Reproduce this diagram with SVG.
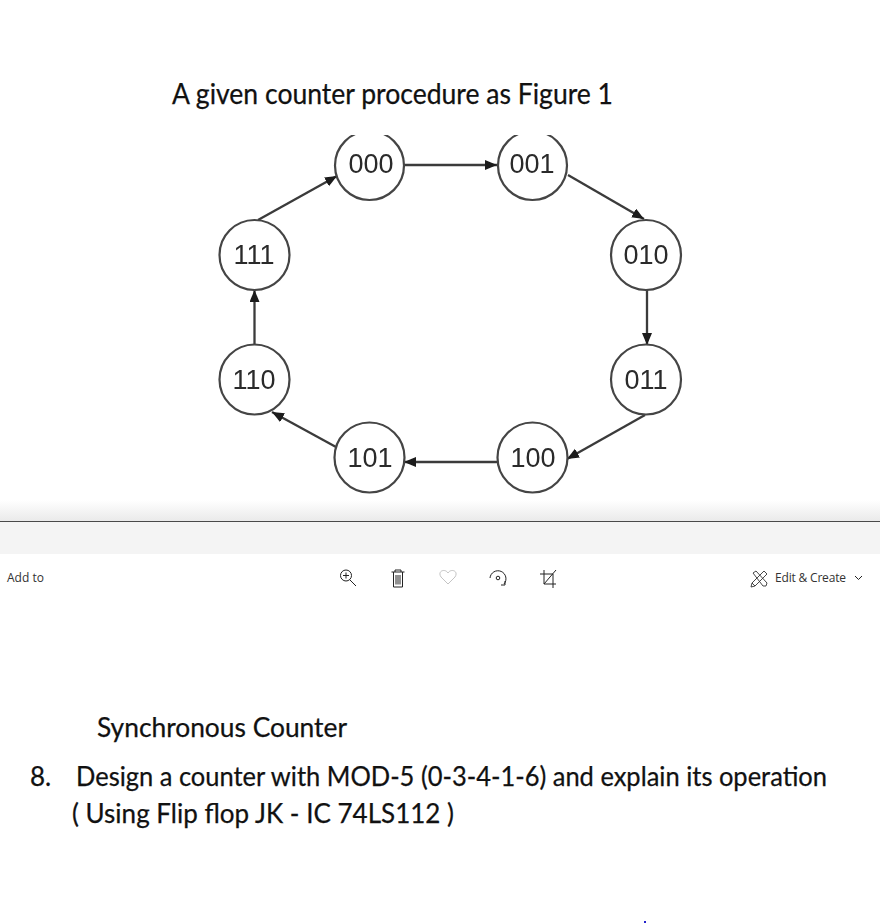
<svg xmlns="http://www.w3.org/2000/svg" width="880" height="923" viewBox="0 0 880 923">
<defs>
<style>
.n{fill:#fff;stroke:#444;stroke-width:2.200}
.l{font-family:"Liberation Sans",Arial,sans-serif;font-size:27px;fill:#2a2a2a;text-anchor:middle}
.c{fill:none;stroke:#3a3a3a;stroke-width:2.300}
.t{font-family:Lato,"Open Sans",sans-serif;fill:#111;stroke:#111;stroke-width:.25}
.u{font-family:"Open Sans",sans-serif;font-size:12px;fill:#333}
.i{fill:none;stroke:#222;stroke-width:1}
</style>
<marker id="a" markerUnits="userSpaceOnUse" markerWidth="14" markerHeight="12" refX="12" refY="5" orient="auto"><path d="M0 0L12 5L0 10Z" fill="#1a1a1a"/></marker>
<linearGradient id="g" x1="0" y1="0" x2="0" y2="1"><stop offset="0" stop-color="#fff"/><stop offset="1" stop-color="#eaeaea"/></linearGradient>
<filter id="b" x="-5%" y="-5%" width="110%" height="110%"><feGaussianBlur stdDeviation="0.600"/></filter>
</defs>
<rect width="880" height="923" fill="#fff"/>
<text class="t" x="172" y="104" font-size="28" textLength="441" lengthAdjust="spacingAndGlyphs">A given counter procedure as Figure 1</text>
<g filter="url(#b)">
<g id="connectors">
<line class="c" x1="258" y1="220" x2="337" y2="176" marker-end="url(#a)"/>
<line class="c" x1="405" y1="165" x2="497" y2="165" marker-end="url(#a)"/>
<line class="c" x1="568" y1="175" x2="644" y2="219" marker-end="url(#a)"/>
<line class="c" x1="647" y1="290" x2="647" y2="345" marker-end="url(#a)"/>
<line class="c" x1="645" y1="415" x2="567" y2="459" marker-end="url(#a)"/>
<line class="c" x1="497" y1="462" x2="404" y2="462" marker-end="url(#a)"/>
<line class="c" x1="336" y1="447" x2="272" y2="412" marker-end="url(#a)"/>
<line class="c" x1="254.500" y1="344" x2="254.500" y2="290" marker-end="url(#a)"/>
</g>
<g id="n000"><circle class="n" cx="369.500" cy="165.500" r="34.500"/><text class="l" x="371" y="173">000</text></g>
<g id="n001"><circle class="n" cx="532.500" cy="165.500" r="34.500"/><text class="l" x="532" y="173">001</text></g>
<g id="n010"><circle class="n" cx="646" cy="255" r="35"/><text class="l" x="646" y="264">010</text></g>
<g id="n011"><circle class="n" cx="646" cy="379.500" r="35"/><text class="l" x="646" y="389">011</text></g>
<g id="n100"><circle class="n" cx="532.500" cy="457.500" r="35"/><text class="l" x="533" y="467">100</text></g>
<g id="n101"><circle class="n" cx="369.500" cy="457.500" r="35"/><text class="l" x="370" y="467">101</text></g>
<g id="n110"><circle class="n" cx="254.500" cy="379.500" r="35"/><text class="l" x="254" y="389">110</text></g>
<g id="n111"><circle class="n" cx="254.500" cy="255" r="35"/><text class="l" x="254" y="264">111</text></g>
</g>
<rect x="320" y="115" width="270" height="20" fill="#fff"/>
<rect y="500" width="880" height="21" fill="url(#g)"/>
<rect y="522" width="880" height="32" fill="#f4f4f4"/>
<rect y="521" width="880" height="1" fill="#4a4a4a"/>
<text class="u" x="7" y="582">Add to</text>
<g class="i">
<circle cx="346" cy="575.500" r="5.500"/><path d="M350 580L356 586M343 575.500H349M346 572.500V578.500"/>
<path d="M391.500 572H404.500M395 572V570H401V572M393.500 572V587H402.500V572M396 575V584.500M398 575V584.500M400 575V584.500"/>
<path d="M448 584L441 577C437 571 445 568 448 573C451 568 459 571 455 577Z" stroke="#c4c4c4"/>
<path d="M490 578A8 8 0 1 1 504 584M501 585H505V581"/><circle cx="498" cy="578" r="1.800"/>
<path d="M544 570V584H556M540 574H553V588M544 584L556 570"/>
<path d="M752 583L764 571L767 574L755 586ZM752 583L751 587L755 586M753 573L756 571L767 583L766 586L763 586Z" stroke="#333" stroke-width=".9"/>
</g>
<text class="u" x="775" y="582" textLength="71">Edit &amp; Create</text>
<path class="i" d="M855 576L858.500 579.500L862 576" stroke="#666"/>
<text class="t" x="97" y="737" font-size="26" textLength="250" lengthAdjust="spacingAndGlyphs">Synchronous Counter</text>
<text class="t" x="30" y="786" font-size="26">8.</text>
<text class="t" x="76" y="786" font-size="26" textLength="751" lengthAdjust="spacingAndGlyphs">Design a counter with MOD-5 (0-3-4-1-6) and explain its operation</text>
<text class="t" x="72" y="823" font-size="26" textLength="382" lengthAdjust="spacingAndGlyphs">( Using Flip flop JK - IC 74LS112 )</text>
<rect x="644" y="921" width="2" height="2" fill="#22c"/>
</svg>
